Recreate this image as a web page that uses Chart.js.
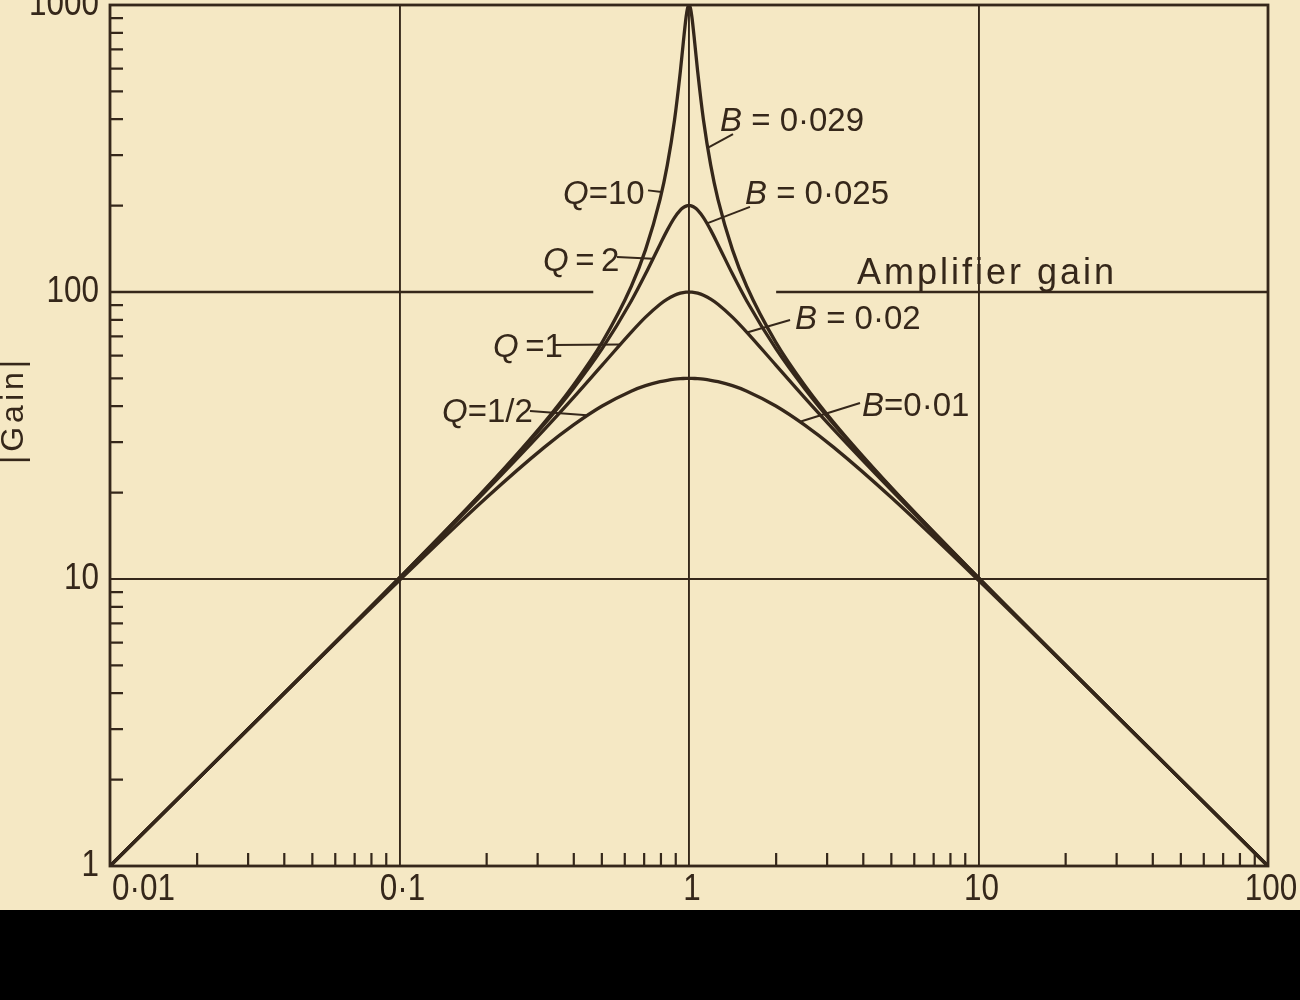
<!DOCTYPE html>
<html>
<head>
<meta charset="utf-8">
<script src="https://cdn.jsdelivr.net/npm/chart.js@4.4.1/dist/chart.umd.min.js"></script>
<style>
html, body { margin: 0; padding: 0; background: #000; overflow: hidden; }
#wrap { position: absolute; left: 0; top: 0; width: 1300px; height: 910px; background: #f5e8c4; }
#band { position: absolute; left: 0; top: 910px; width: 1300px; height: 90px; background: #000; }
canvas { display: block; }
</style>
</head>
<body>
<div id="wrap"><canvas id="c" width="1300" height="910"></canvas></div>
<div id="band"></div>
<script>
// ---- data ----
const freq = [0.01, 0.1, 0.1995, 0.3162, 0.3981, 0.5012, 0.6310, 0.7079, 0.7943, 0.8414, 0.8913, 0.9333, 0.9550, 0.9772, 0.9886, 1,
              1.0116, 1.0233, 1.0471, 1.0715, 1.1220, 1.1885, 1.2589, 1.4125, 1.5849, 1.9953, 2.5119, 3.1623, 5.0119, 10, 100];
const gainQ10 = [1.00, 10.10, 20.78, 35.11, 47.26, 66.78, 104.3, 140.5, 210.4, 276.8, 397.6, 586.0, 735.4, 908.3, 974.5, 1000,
                 974.5, 908.3, 735.4, 586.0, 397.6, 276.8, 210.4, 140.5, 104.3, 66.78, 47.26, 35.11, 20.78, 10.10, 1.00];
const gainQ2 = [1.00, 10.09, 20.67, 34.61, 46.04, 63.47, 92.85, 115.7, 146.5, 164.3, 181.6, 192.8, 196.7, 199.2, 199.8, 200,
                199.8, 199.2, 196.7, 192.8, 181.6, 164.3, 146.5, 115.7, 92.85, 63.47, 46.04, 34.61, 20.67, 10.09, 1.00];
const gainQ1 = [1.00, 10.05, 20.35, 33.15, 42.76, 55.62, 72.36, 81.75, 90.69, 94.47, 97.44, 99.06, 99.58, 99.89, 99.97, 100,
                99.97, 99.89, 99.58, 99.06, 97.44, 94.47, 90.69, 81.75, 72.36, 55.62, 42.76, 33.15, 20.35, 10.05, 1.00];
const gainQhalf = [1.00, 9.90, 19.19, 28.75, 34.36, 40.06, 45.13, 47.16, 48.70, 49.26, 49.67, 49.88, 49.95, 49.99, 50.00, 50.00,
                   50.00, 49.99, 49.95, 49.88, 49.67, 49.26, 48.70, 47.16, 45.13, 40.06, 34.36, 28.75, 19.19, 9.90, 1.00];
// amplifier gain line (broken around the peak)
const ampFreq = [0.01, 0.467, 1, 2.0, 100];
const ampGain = [100, 100, null, 100, 100];

const xTickValues = [0.01, 0.1, 1, 10, 100];
const xTickLabels = ['0·01', '0·1', '1', '10', '100'];
const yTickValues = [1, 10, 100, 1000];
const yTickLabels = ['1', '10', '100', '1000'];
const xDecades = [0.01, 0.1, 1, 10];
const yDecades = [1, 10, 100];
const minorMultipliers = [2, 3, 4, 5, 6, 7, 8, 9];

const LINE = '#35271a';
const isDecade = v => Math.abs(Math.log10(v) - Math.round(Math.log10(v))) < 1e-6;
const pts = (xs, ys) => xs.map((x, i) => ({ x: x, y: ys[i] }));

const curveStyle = {
  borderColor: LINE, borderWidth: 3.3, pointRadius: 0, fill: false,
  cubicInterpolationMode: 'monotone'
};

const notes = [
  { sym: 'B', rest: ' = 0·029', at: [1.280, 391], from: [1.419, 355], to: [1.16, 318] },
  { sym: 'Q', rest: '=10', at: [0.367, 218], from: [0.722, 226], to: [0.805, 223] },
  { sym: 'B', rest: ' = 0·025', at: [1.561, 218], from: [1.624, 198], to: [1.154, 173.4] },
  { sym: 'Q', rest: '\u2009=\u20092', at: [0.313, 127.2], from: [0.564, 132.4], to: [0.751, 130.5] },
  { sym: 'B', rest: ' = 0·02', at: [2.323, 79.9], from: [2.234, 79.9], to: [1.586, 72.3] },
  { sym: 'Q', rest: '\u2009=1', at: [0.2104, 63.8], from: [0.339, 65.3], to: [0.578, 65.6] },
  { sym: 'Q', rest: '=1/2', at: [0.1402, 37.9], from: [0.2824, 38.5], to: [0.4444, 37.2] },
  { sym: 'B', rest: '=0·01', at: [3.959, 39.7], from: [3.897, 41.05], to: [2.417, 35.3] }
];

const decor = {
  id: 'decor',
  afterDraw(chart) {
    const { ctx, chartArea: a, scales: { x, y } } = chart;
    const P = (xv, yv) => [x.getPixelForValue(xv), y.getPixelForValue(yv)];
    const narrowText = (txt, px, py, align) => {
      ctx.save();
      ctx.translate(px, py);
      ctx.scale(0.85, 1);
      ctx.textAlign = align;
      ctx.fillText(txt, 0, 0);
      ctx.restore();
    };
    ctx.save();
    ctx.strokeStyle = LINE;
    ctx.fillStyle = LINE;
    ctx.lineCap = 'butt';
    // frame
    ctx.lineWidth = 2.8;
    ctx.strokeRect(a.left, a.top, a.right - a.left, a.bottom - a.top);
    // minor ticks (inside)
    ctx.lineWidth = 2.2;
    ctx.beginPath();
    xDecades.forEach(d => minorMultipliers.forEach(m => {
      const px = x.getPixelForValue(d * m);
      ctx.moveTo(px, a.bottom); ctx.lineTo(px, a.bottom - 13);
    }));
    yDecades.forEach(d => minorMultipliers.forEach(m => {
      const py = y.getPixelForValue(d * m);
      ctx.moveTo(a.left, py); ctx.lineTo(a.left + 13, py);
    }));
    ctx.stroke();
    // tick labels
    ctx.font = '37px "Liberation Sans", Arial, sans-serif';
    ctx.textBaseline = 'middle';
    yTickValues.forEach((v, i) => narrowText(yTickLabels[i], a.left - 11, y.getPixelForValue(v), 'right'));
    xTickValues.forEach((v, i) => {
      narrowText(xTickLabels[i], x.getPixelForValue(v) + (i === 0 ? 2 : 3), a.bottom + 24, i === 0 ? 'left' : 'center');
    });
    // annotations
    const upright = '33px "Liberation Sans", Arial, sans-serif';
    const italic = 'italic 33px "Liberation Sans", Arial, sans-serif';
    ctx.textAlign = 'left';
    ctx.lineWidth = 2;
    notes.forEach(n => {
      const [tx, ty] = P(n.at[0], n.at[1]);
      ctx.font = italic;
      ctx.fillText(n.sym, tx, ty);
      const w = ctx.measureText(n.sym).width;
      ctx.font = upright;
      ctx.fillText(n.rest, tx + w, ty);
      const [fx, fy] = P(n.from[0], n.from[1]);
      const [ex, ey] = P(n.to[0], n.to[1]);
      ctx.beginPath(); ctx.moveTo(fx, fy); ctx.lineTo(ex, ey); ctx.stroke();
    });
    // amplifier gain label
    ctx.font = '36px "Liberation Sans", Arial, sans-serif';
    ctx.letterSpacing = '3px';
    const [ax, ay] = P(3.804, 115.5);
    ctx.fillText('Amplifier gain', ax, ay);
    // y-axis title
    ctx.translate(14, 410);
    ctx.rotate(-Math.PI / 2);
    ctx.textAlign = 'center';
    ctx.font = '32px "Liberation Sans", Arial, sans-serif';
    ctx.letterSpacing = '4px';
    ctx.fillText('|Gain|', 0, 0);
    ctx.letterSpacing = '0px';
    ctx.restore();
  }
};

new Chart(document.getElementById('c'), {
  type: 'line',
  data: {
    datasets: [
      Object.assign({ label: 'Q=1/2, B=0·01', data: pts(freq, gainQhalf) }, curveStyle),
      Object.assign({ label: 'Q=1, B=0·02', data: pts(freq, gainQ1) }, curveStyle),
      Object.assign({ label: 'Q=2, B=0·025', data: pts(freq, gainQ2) }, curveStyle),
      Object.assign({ label: 'Q=10, B=0·029', data: pts(freq, gainQ10) }, curveStyle),
      { label: 'Amplifier gain', data: pts(ampFreq, ampGain), borderColor: LINE, borderWidth: 2.4,
        pointRadius: 0, fill: false, spanGaps: false, tension: 0 }
    ]
  },
  options: {
    responsive: false,
    animation: false,
    devicePixelRatio: 1,
    layout: { padding: { left: 110, top: 5, right: 32, bottom: 44 } },
    plugins: { legend: { display: false }, tooltip: { enabled: false } },
    scales: {
      x: {
        type: 'logarithmic', min: 0.01, max: 100,
        ticks: { display: false },
        border: { display: false },
        grid: {
          drawTicks: false,
          color: c => (c.tick && isDecade(c.tick.value)) ? LINE : 'rgba(0,0,0,0)',
          lineWidth: c => (c.tick && isDecade(c.tick.value)) ? 1.9 : 0
        }
      },
      y: {
        type: 'logarithmic', min: 1, max: 1000,
        ticks: { display: false },
        border: { display: false },
        grid: {
          drawTicks: false,
          color: c => (c.tick && isDecade(c.tick.value) && Math.abs(c.tick.value - 100) > 1e-6) ? LINE : 'rgba(0,0,0,0)',
          lineWidth: c => (c.tick && isDecade(c.tick.value) && Math.abs(c.tick.value - 100) > 1e-6) ? 1.9 : 0
        }
      }
    }
  },
  plugins: [decor]
});
</script>
</body>
</html>
